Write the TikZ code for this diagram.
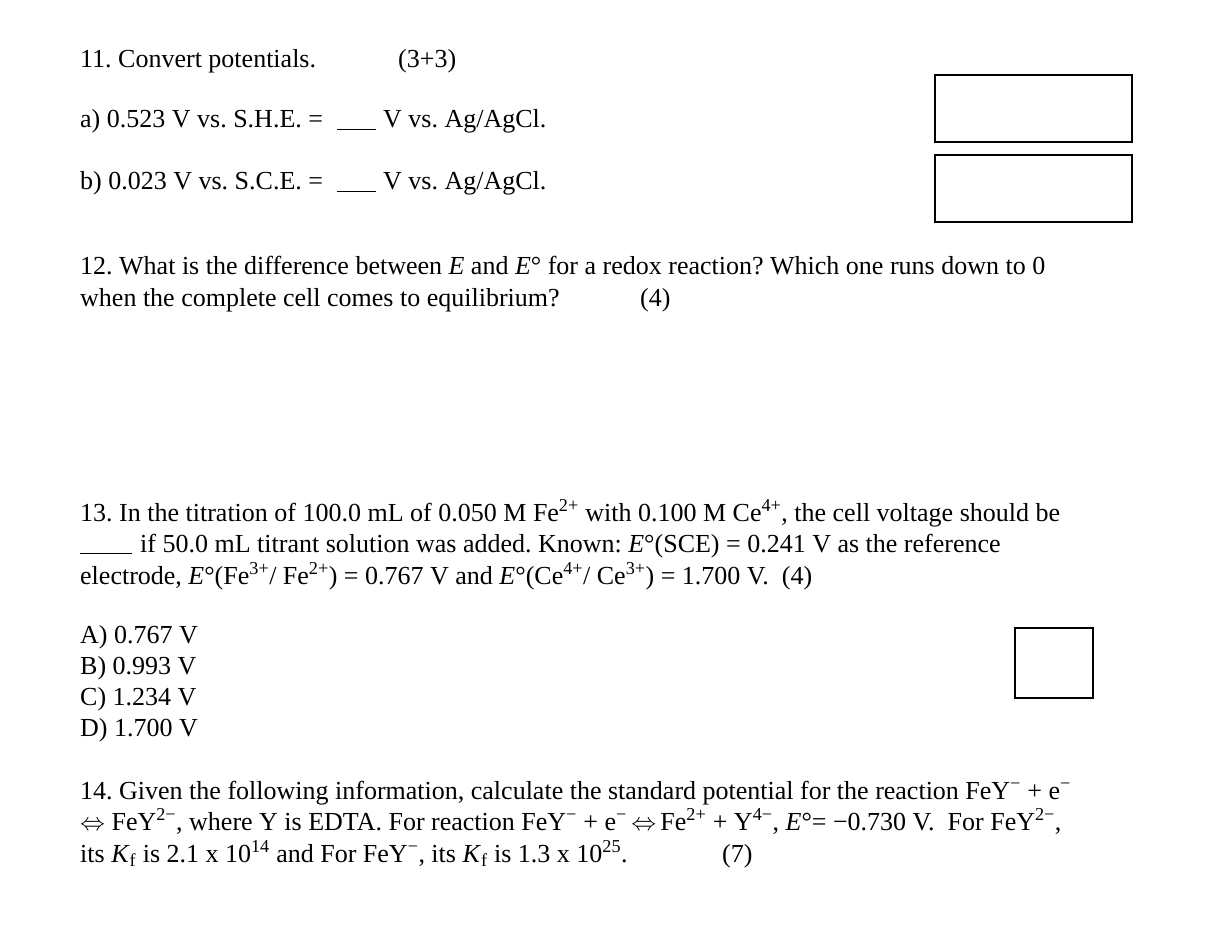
\documentclass[tikz,border=0pt]{standalone}
\usepackage{fontspec}
\setmainfont{Liberation Serif}
\frenchspacing
\newcommand{\sps}[1]{\textsuperscript{#1}}
\newcommand{\eqv}{\,$\Leftrightarrow$\,}
\begin{document}
\begin{tikzpicture}[x=1pt,y=-1pt,
  txt/.style={anchor=base west,inner sep=0pt,font=\fontsize{26}{30}\selectfont},
  ansbox/.style={draw,line width=1.5pt}]
\useasboundingbox (0,0) rectangle (1216,944);
\node[txt] (q11) at (80,68) {11. Convert potentials.};
\node[txt] (q11p) at (398,68) {(3+3)};
\node[txt] (qa) at (80,128) {a) 0.523 V vs. S.H.E. =};
\draw (337,129) -- (376,129);
\node[txt] (qa2) at (383,128) {V vs. Ag/AgCl.};
\node[txt] (qb) at (80,190) {b) 0.023 V vs. S.C.E. =};
\draw (337,191) -- (376,191);
\node[txt] (qb2) at (383,190) {V vs. Ag/AgCl.};
\draw[ansbox] (935,75) rectangle (1132,142);
\draw[ansbox] (935,155) rectangle (1132,222);
\node[txt] (q12a) at (80,275) {12. What is the difference between \textit{E} and \textit{E}° for a redox reaction? Which one runs down to 0};
\node[txt] (q12b) at (80,306) {when the complete cell comes to equilibrium?};
\node[txt] (q12p) at (640,306) {(4)};
\node[txt] (q13a) at (80,521) {13. In the titration of 100.0 mL of 0.050 M Fe\sps{2+} with 0.100 M Ce\sps{4+}, the cell voltage should be};
\draw (80,553) -- (132,553);
\node[txt] (q13b) at (140,552) {if 50.0 mL titrant solution was added. Known: \textit{E}°(SCE) = 0.241 V as the reference};
\node[txt] (q13c) at (80,584) {electrode, \textit{E}°(Fe\sps{3+}/ Fe\sps{2+}) = 0.767 V and \textit{E}°(Ce\sps{4+}/ Ce\sps{3+}) = 1.700 V.~~(4)};
\node[txt] (oa) at (80,643) {A) 0.767 V};
\node[txt] (ob) at (80,674) {B) 0.993 V};
\node[txt] (oc) at (80,705) {C) 1.234 V};
\node[txt] (od) at (80,736) {D) 1.700 V};
\draw[ansbox] (1015,628) rectangle (1093,698);
\node[txt] (q14a) at (80,799) {14. Given the following information, calculate the standard potential for the reaction FeY\sps{−} + e\sps{−}};
\node[txt] (q14b) at (80,830) {$\Leftrightarrow$ FeY\sps{2−}, where Y is EDTA. For reaction FeY\sps{−} + e\sps{−}\eqv Fe\sps{2+} + Y\sps{4−}, \textit{E}°= −0.730 V.~ For FeY\sps{2−},};
\node[txt] (q14c) at (80,862) {its \textit{K}\textsubscript{f} is 2.1 x 10\sps{14} and For FeY\sps{−}, its \textit{K}\textsubscript{f} is 1.3 x 10\sps{25}.};
\node[txt] (q14p) at (722,862) {(7)};
\end{tikzpicture}
\end{document}
